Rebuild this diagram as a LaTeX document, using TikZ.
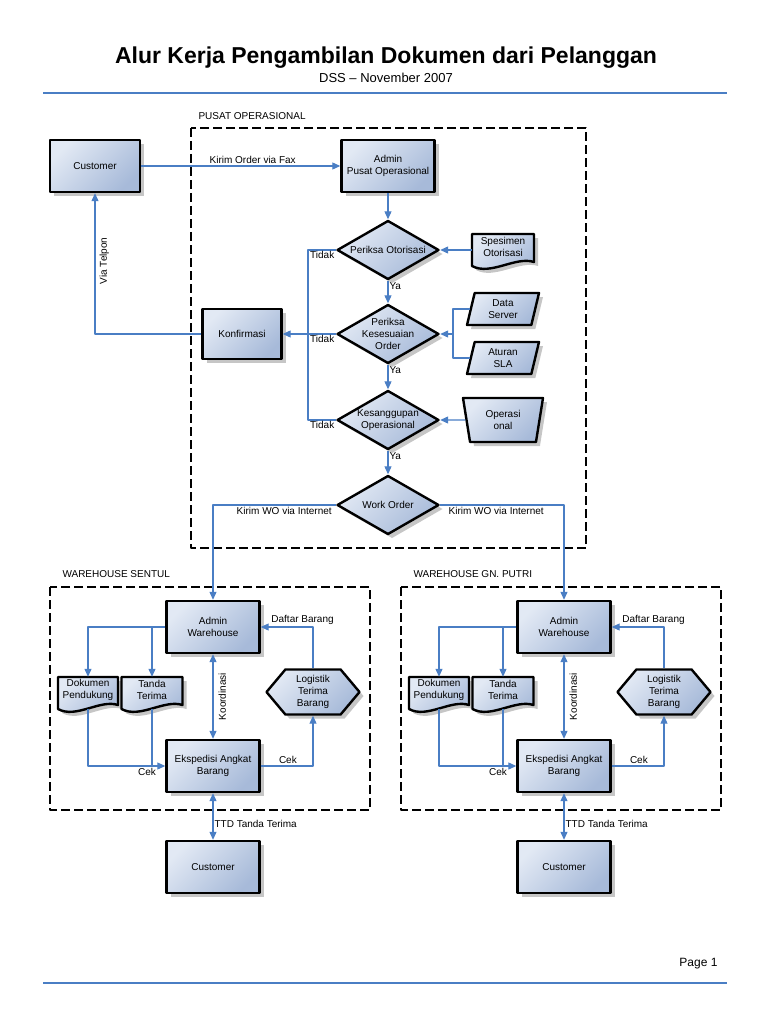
\documentclass[tikz,border=0pt]{standalone}
\usepackage{fontspec}
\setmainfont{Liberation Sans}
\usetikzlibrary{shapes.geometric,shapes.symbols,shadows,arrows.meta}
\definecolor{lnblue}{HTML}{4A7EC4}
\definecolor{boxtop}{HTML}{E2E9F4}
\definecolor{boxbot}{HTML}{A7BAD9}
\definecolor{shgray}{HTML}{C6C6C6}
\begin{document}
\begin{tikzpicture}[x=1pt,y=-1pt,>={Triangle[length=8pt,width=7pt]},font=\fontsize{10}{12}\selectfont,line join=round,
	fill3d/.style={top color=boxtop,bottom color=boxbot,shading angle=45,drop shadow={shadow xshift=4pt,shadow yshift=-4pt,fill=shgray,opacity=1}},
	box/.style={draw,line width=2.4pt,fill3d,minimum width=93pt,minimum height=52pt,align=center,inner sep=1pt},
	dec/.style={diamond,draw,line width=2.4pt,fill3d,minimum width=102pt,minimum height=59pt,inner sep=0pt},
	para/.style={trapezium,trapezium left angle=68,trapezium right angle=112,trapezium stretches body=true,draw,line width=2.4pt,fill3d,minimum width=72pt,minimum height=32pt,align=center,inner sep=0pt},
	manop/.style={trapezium,trapezium left angle=110,trapezium right angle=110,trapezium stretches body=true,draw,line width=2.4pt,fill3d,minimum width=80pt,minimum height=44pt,align=center,inner sep=0pt},
	hexa/.style={signal,signal to=west and east,signal pointer angle=100,draw,line width=2.4pt,fill3d,minimum width=93pt,minimum height=45pt,align=center,inner sep=0pt},
	docsh/.style={draw,line width=2.4pt,fill3d},
	docnd/.style={minimum height=32pt,inner sep=0pt},
	dtext/.style={align=center,inner sep=0pt},
	conn/.style={draw=lnblue,line width=1.1pt},
	lbl/.style={inner sep=2pt,text=black},
	zone/.style={draw,line width=1.1pt,dash pattern=on 9pt off 4pt}]
	\useasboundingbox (0,0) rectangle (768,1024);
	\def\ws{351}
	\node[font=\fontsize{23}{27}\selectfont\bfseries] (ttl) at (386,58) {Alur Kerja Pengambilan Dokumen dari Pelanggan};
	\node[font=\fontsize{13}{15}\selectfont] (sub) at (386,78) {DSS \textendash{} November 2007};
	\draw[lnblue,line width=1.5pt] (43,93) -- (727,93);
	\node[font=\fontsize{12}{14}\selectfont,anchor=east] (pg) at (721,964) {Page 1};
	\draw[lnblue,line width=1.2pt] (43,983) -- (727,983);
	% pusat operasional
	\node[anchor=west] (lbpo) at (195,116) {PUSAT OPERASIONAL};
	\draw[zone] (191,128) rectangle (586,548);
	\node[box,minimum width=90pt] (cust1) at (95,166) {Customer};
	\node[box] (adminpo) at (388,166) {Admin\\Pusat Operasional};
	\node[box,minimum width=79pt,minimum height=50pt] (konf) at (242,334) {Konfirmasi};
	\node[dec,label={[dtext]center:Periksa Otorisasi}] (d1) at (388,250) {};
	\node[dec,label={[dtext]center:{Periksa\\Kesesuaian\\Order}}] (d2) at (388,334) {};
	\node[dec,label={[dtext]center:{Kesanggupan\\Operasional}}] (d3) at (388,420) {};
	\node[dec,label={[dtext]center:Work Order}] (wo) at (388,505) {};
	\node[para] (data) at (503,309) {Data\\Server};
	\node[para] (sla) at (503,358) {Aturan\\SLA};
	\node[manop] (oper) at (503,420) {Operasi\\onal};
	\foreach \nm/\cx/\cy/\w/\txt in {spes/503/250/62/{Spesimen\\Otorisasi},doks/88/693/60/{Dokumen\\Pendukung},tnds/152/693/61/{Tanda\\Terima},dokp/439/693/60/{Dokumen\\Pendukung},tndp/503/693/61/{Tanda\\Terima}}{
		\path[docsh] ({\cx-\w/2},{\cy-16}) -- ({\cx+\w/2},{\cy-16}) -- ({\cx+\w/2},{\cy+12}) .. controls ({\cx+0.2*\w},{\cy+6}) and ({\cx-0.2*\w},{\cy+26}) .. ({\cx-\w/2},{\cy+16}) -- cycle;
		\node[docnd,minimum width=\w pt,label={[dtext,yshift=3pt]center:\txt}] (\nm) at (\cx,\cy) {};
	}
	\coordinate (tx) at (308,334);
	\coordinate (jn) at (453,334);
	\draw[conn,->] (cust1) -- node[lbl,pos=0.56,above] {Kirim Order via Fax} (adminpo);
	\draw[conn,->] (adminpo) -- (d1);
	\draw[conn,->] (d1.south) node[lbl,below right,inner sep=1pt] {Ya} -- (d2.north);
	\draw[conn,->] (d2.south) node[lbl,below right,inner sep=1pt] {Ya} -- (d3.north);
	\draw[conn,->] (d3.south) node[lbl,below right,inner sep=1pt] {Ya} -- (wo.north);
	\draw[conn,->] (spes.west) -- (d1.east);
	\draw[conn] (data.west) -| (jn) |- (sla.west);
	\draw[conn,->] (jn) -- (d2.east);
	\draw[conn,->] (oper.west) -- (d3.east);
	\draw[conn] (d1.west) node[lbl,below left,inner sep=1pt] {Tidak} -| (tx) |- (d3.west) node[lbl,below left,inner sep=1pt] {Tidak};
	\draw[conn,->] (d2.west) node[lbl,below left,inner sep=1pt] {Tidak} -- (konf.east);
	\draw[conn,->] (konf.west) -| node[lbl,pos=0.76,rotate=90,anchor=north,inner sep=4pt] {Via Telpon} (cust1.south);
	% warehouses
	\foreach \s/\k/\wname in {0/s/WAREHOUSE SENTUL,\ws/p/WAREHOUSE GN. PUTRI}{
		\node[anchor=west] (lb\k) at (59+\s,574) {\wname};
		\draw[zone] (50+\s,587) rectangle (370+\s,810);
		\node[box] (aw\k) at (213+\s,627) {Admin\\Warehouse};
		\node[box] (eks\k) at (213+\s,766) {Ekspedisi Angkat\\Barang};
		\node[box] (cw\k) at (213+\s,867) {Customer};
		\node[hexa] (logi\k) at (313+\s,692) {Logistik\\Terima\\Barang};
		\draw[conn,->] (aw\k.west) -| (dok\k.north);
		\draw[conn,->] (aw\k.west -| tnd\k.north) -- (tnd\k.north);
		\draw[conn,->] (dok\k.south) |- (eks\k.west);
		\draw[conn] (tnd\k.south) -- (tnd\k.south |- eks\k.west) node[lbl,below,xshift=-5pt] {Cek};
		\draw[conn,->] (eks\k.east) -| node[lbl,pos=0.26,above] {Cek} (logi\k.south);
		\draw[conn,->] (logi\k.north) |- node[lbl,pos=0.6,above] {Daftar Barang} (aw\k.east);
		\draw[conn,<->] (aw\k.south) -- node[lbl,rotate=90,anchor=north,inner sep=5pt] {Koordinasi} (eks\k.north);
		\draw[conn,<->] (eks\k.south) -- node[lbl,pos=0.66,right,inner sep=1pt] {TTD Tanda Terima} (cw\k.north);
	}
	\draw[conn,->] (wo.west) -| node[lbl,pos=0.21,below] {Kirim WO via Internet} (aws.north);
	\draw[conn,->] (wo.east) -| node[lbl,pos=0.226,below] {Kirim WO via Internet} (awp.north);
\end{tikzpicture}
\end{document}
